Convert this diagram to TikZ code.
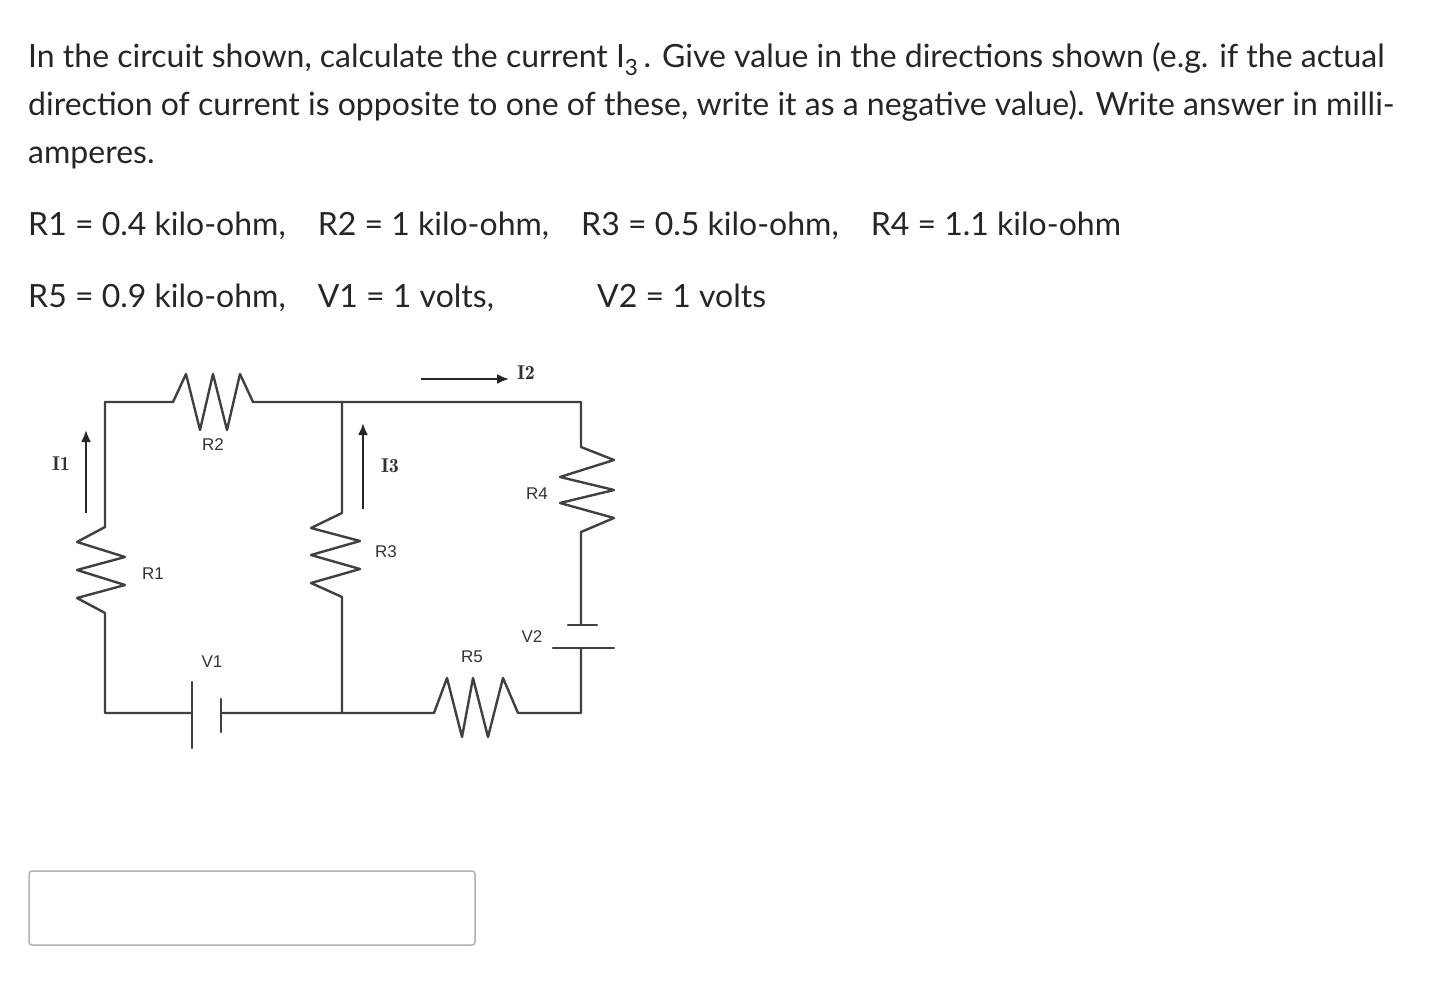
\documentclass[tikz,border=0pt]{standalone}
\usepackage{fontspec}
\setmainfont{Lato}
\setsansfont{Liberation Sans}
\usetikzlibrary{arrows.meta}
\begin{document}
\begin{tikzpicture}[x=1pt,y=-1pt,
  para/.style={anchor=base west,inner sep=0pt,font=\fontsize{32}{36}\selectfont,text=black!85},
  wire/.style={line width=2.4pt,black!75,line cap=round,line join=round},
  rlab/.style={font=\sffamily\fontsize{17}{17}\selectfont,text=black!80,inner sep=0pt},
  ilab/.style={font=\fontfamily{lmr}\bfseries\fontsize{20}{20}\selectfont,text=black!80,inner sep=0pt},
  cur/.style={line width=2.2pt,black!85,-{Latex[length=12pt,width=10pt]}}]
\useasboundingbox (0,0) rectangle (1440,992);
\fill[white] (0,0) rectangle (1440,992);
\node[para] (t1) at (28,68) {In the circuit shown, calculate the current I\textsubscript{3}\,. Give value in the directions shown (e.g. if the actual};
\node[para] (t2) at (28,116) {direction of current is opposite to one of these, write it as a negative value). Write answer in milli-};
\node[para] (t3) at (28,164) {amperes.};
\node[para] (t4) at (28,236) {R1 = 0.4 kilo-ohm,\quad R2 = 1 kilo-ohm,\quad R3 = 0.5 kilo-ohm,\quad R4 = 1.1 kilo-ohm};
\node[para] (t5) at (28,308) {R5 = 0.9 kilo-ohm,\quad V1 = 1 volts,};
\node[para] (t6) at (597,308) {V2 = 1 volts};
% circuit
\coordinate (tl) at (105,402); \coordinate (tm) at (342,402); \coordinate (tr) at (581,402);
\coordinate (bl) at (105,713); \coordinate (bm) at (342,713); \coordinate (br) at (581,713);
\draw[wire] (tl) -- (173,402) -- (186,374) -- (200,430) -- (213,374) -- (227,430) -- (240,374) -- (253,402) -- (tm) -- (tr) -- (581,447)
  -- (614,460) -- (560,477) -- (614,490) -- (560,503) -- (614,518) -- (581,532) -- (581,625);
\draw[wire] (tl) -- (105,527) -- (77,542) -- (125,557) -- (77,570) -- (125,585) -- (77,598) -- (105,613) -- (bl) -- (192,713);
\draw[wire] (tm) -- (342,513) -- (311,528) -- (360,541) -- (311,555) -- (360,569) -- (311,583) -- (342,597) -- (bm);
\draw[wire] (221,713) -- (bm) -- (434,713) -- (447,678) -- (462,737) -- (473,678) -- (488,737) -- (503,678) -- (518,713) -- (br) -- (581,648);
\draw[wire] (192,682) -- (192,748);
\draw[wire] (221,699) -- (221,732);
\draw[wire] (568,625) -- (597,625);
\draw[wire] (553,648) -- (614,648);
\coordinate (i1a) at (86,513); \coordinate (i1b) at (86,430);
\coordinate (i3a) at (363,509); \coordinate (i3b) at (363,423);
\coordinate (i2a) at (421,379); \coordinate (i2b) at (509,379);
\draw[cur] (i1a) -- (i1b);
\draw[cur] (i3a) -- (i3b);
\draw[cur] (i2a) -- (i2b);
\node[ilab] (I1) at (61,464) {I1};
\node[ilab] (I3) at (390,466) {I3};
\node[ilab] (I2) at (526,373) {I2};
\node[rlab] (R2) at (213,445) {R2};
\node[rlab] (R4) at (537,494) {R4};
\node[rlab] (R3) at (386,552) {R3};
\node[rlab] (R1) at (153,574) {R1};
\node[rlab] (V2) at (532,637) {V2};
\node[rlab] (R5) at (472,657) {R5};
\node[rlab] (V1) at (212,662) {V1};
\draw[black!30,line width=1.5pt,rounded corners=3pt] (29,871) rectangle (475,945);
\end{tikzpicture}
\end{document}
